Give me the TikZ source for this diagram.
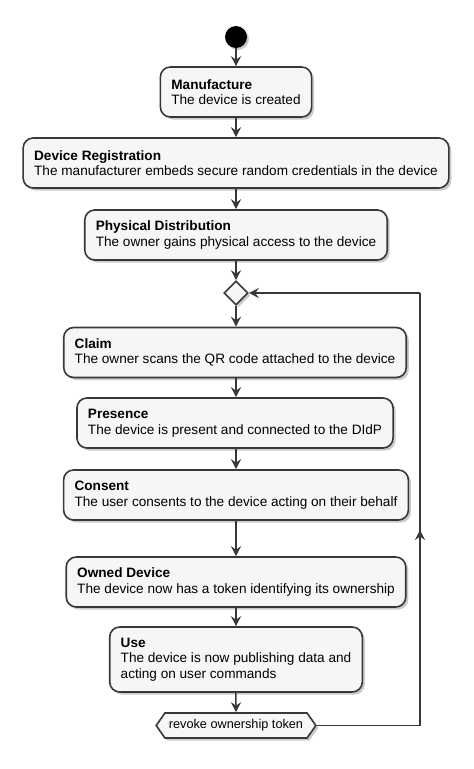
\documentclass[tikz,border=0pt]{standalone}
\usepackage{fontspec}
\setmainfont{Liberation Sans}
\usetikzlibrary{shapes.geometric,shapes.symbols,shadows,arrows.meta}
\definecolor{edgec}{HTML}{383838}
\definecolor{boxfill}{HTML}{F6F6F6}
\tikzset{
  actbox/.style={draw=edgec, line width=1.6pt, fill=boxfill, rounded corners=10pt,
    align=left, inner xsep=11pt, inner ysep=6pt, minimum height=50pt,
    font=\fontsize{13.6}{15.5}\selectfont,
    drop shadow={shadow xshift=2.5pt, shadow yshift=-2.5pt, opacity=0.35, fill=black!60}},
  flow/.style={draw=edgec, line width=1.5pt},
  arr/.style={flow, -{Stealth[length=10pt,width=10pt,inset=3.5pt]}},
  decision/.style={diamond, draw=edgec, line width=1.6pt, fill=boxfill, minimum width=24pt, minimum height=24pt, inner sep=0pt,
    drop shadow={shadow xshift=2.5pt, shadow yshift=-2.5pt, opacity=0.35, fill=black!60}},
  hexa/.style={signal, signal to=west and east, signal pointer angle=110, draw=edgec, line width=1.6pt, fill=boxfill,
    minimum height=25pt, inner xsep=4pt, font=\fontsize{12.7}{14}\selectfont,
    drop shadow={shadow xshift=2.5pt, shadow yshift=-2.5pt, opacity=0.35, fill=black!60}},
  startdot/.style={circle, fill=black, minimum size=22pt, inner sep=0pt,
    drop shadow={shadow xshift=2pt, shadow yshift=-2pt, opacity=0.35, fill=black!60}}
}
\begin{document}
\begin{tikzpicture}[x=1pt,y=-1pt]
\useasboundingbox (0,0) rectangle (474,769);
\node[startdot] (start) at (236,37) {};
\node[actbox] (manu) at (236,92) {\textbf{Manufacture}\\The device is created};
\node[actbox] (reg) at (236,163) {\textbf{Device Registration}\\The manufacturer embeds secure random credentials in the device};
\node[actbox] (phys) at (236,235) {\textbf{Physical Distribution}\\The owner gains physical access to the device};
\node[decision] (dia) at (236,293) {};
\node[actbox] (claim) at (235,352.5) {\textbf{Claim}\\The owner scans the QR code attached to the device};
\node[actbox] (pres) at (235,423) {\textbf{Presence}\\The device is present and connected to the DIdP};
\node[actbox] (cons) at (236,495) {\textbf{Consent}\\The user consents to the device acting on their behalf};
\node[actbox] (own) at (236,582) {\textbf{Owned Device}\\The device now has a token identifying its ownership};
\node[actbox, minimum height=65pt] (use) at (236,659.5) {\textbf{Use}\\The device is now publishing data and\\acting on user commands};
\node[hexa] (rev) at (236,725.5) {revoke ownership token};
\coordinate (lb) at (420,725.5);
\coordinate (lm) at (420,530);
\coordinate (lt) at (420,293);
\draw[arr] (start) -- (manu);
\draw[arr] (manu) -- (reg);
\draw[arr] (reg) -- (phys);
\draw[arr] (phys) -- (dia);
\draw[arr] (dia) -- (claim.north -| dia);
\draw[arr] (claim.south -| dia) -- (pres.north -| dia);
\draw[arr] (pres.south -| dia) -- (cons.north -| dia);
\draw[arr] (cons) -- (own);
\draw[arr] (own) -- (use);
\draw[arr] (use) -- (rev);
\draw[flow] (rev.east) -- (lb) -- (lt);
\draw[arr] (lb) -- (lm);
\draw[arr] (lt) -- (dia.east);
\end{tikzpicture}
\end{document}
